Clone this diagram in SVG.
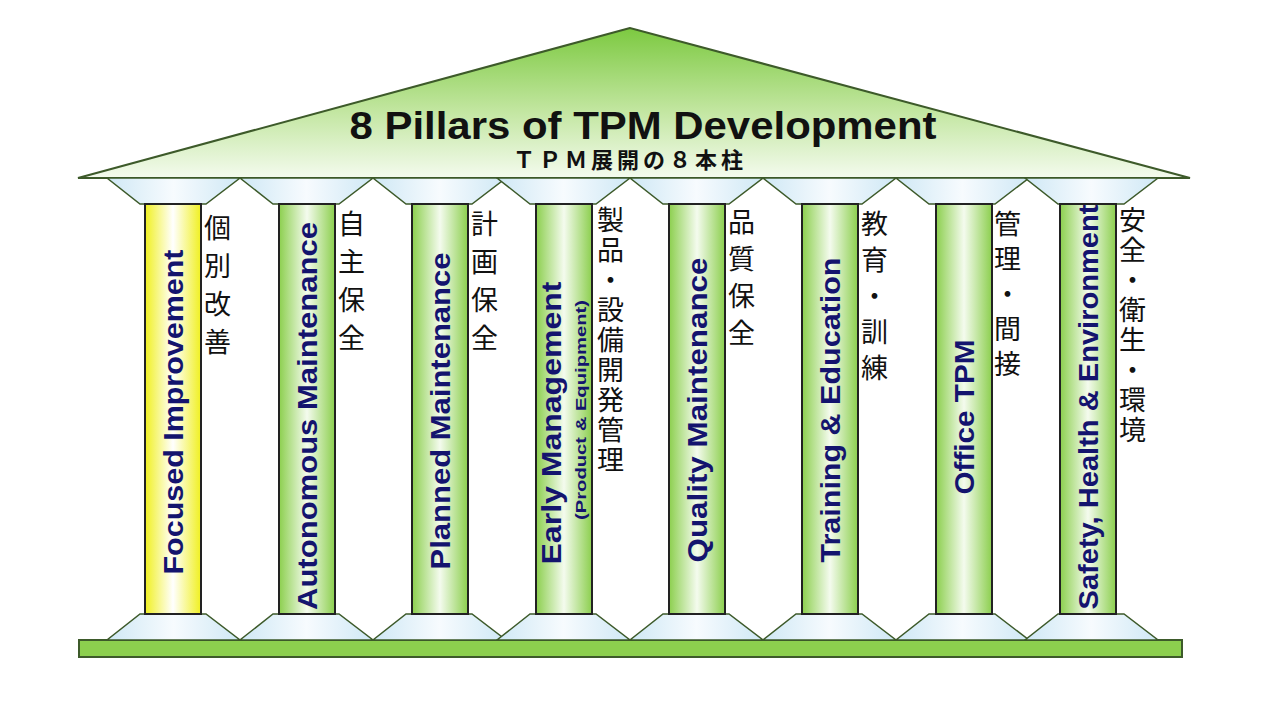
<svg xmlns="http://www.w3.org/2000/svg" width="1267" height="720" viewBox="0 0 1267 720">
<defs>
<linearGradient id="roof" x1="0" y1="0" x2="0" y2="1"><stop offset="0" stop-color="#7cc940"/><stop offset="0.55" stop-color="#c2e6a0"/><stop offset="1" stop-color="#f4fbee"/></linearGradient>
<linearGradient id="col" x1="0" y1="0" x2="1" y2="0"><stop offset="0" stop-color="#8ccf4e"/><stop offset="0.5" stop-color="#f4fbee"/><stop offset="1" stop-color="#8ccf4e"/></linearGradient>
<linearGradient id="ycol" x1="0" y1="0" x2="1" y2="0"><stop offset="0" stop-color="#f0f020"/><stop offset="0.5" stop-color="#ffffff"/><stop offset="1" stop-color="#f0f020"/></linearGradient>
<linearGradient id="cap" x1="0" y1="0" x2="1" y2="0"><stop offset="0" stop-color="#cfe8f5"/><stop offset="0.5" stop-color="#f7fbfe"/><stop offset="1" stop-color="#cfe8f5"/></linearGradient>
</defs>
<style>
.s{stroke:#3d5a2a;stroke-width:2}
.cap{fill:url(#cap);stroke:#3d5a2a;stroke-width:1.5}
.col{fill:url(#col);stroke:#222;stroke-width:2}
.en{font-family:"Liberation Sans",Arial,sans-serif;font-weight:bold;font-size:28px;fill:#14146e;text-anchor:middle}
.jp{font-family:"Noto Sans CJK JP",sans-serif;font-size:27px;fill:#111}
</style>
<rect width="1267" height="720" fill="#fff"/>
<g id="roof-g">
<polygon points="630,28 78,178 1190,178" fill="url(#roof)" class="s"/>
<text x="643" y="139" font-family="Liberation Sans,Arial,sans-serif" font-weight="bold" font-size="39" fill="#111" text-anchor="middle" textLength="587" lengthAdjust="spacingAndGlyphs">8 Pillars of TPM Development</text>
<text x="630" y="168" font-family="Noto Sans CJK JP,sans-serif" font-weight="bold" font-size="22" fill="#111" text-anchor="middle" letter-spacing="4">ＴＰＭ展開の８本柱</text>
</g>
<g id="base"><rect x="79" y="640" width="1103" height="17" fill="#8ccf4e" class="s"/></g>
<g id="p1"><polygon class="cap" points="107,178 240,178 206,204 140,204"/><polygon class="cap" points="140,614 206,614 240,640 107,640"/><rect x="145" y="204" width="56" height="410" fill="url(#ycol)" stroke="#222" stroke-width="2"/><text class="en" transform="translate(183,412) rotate(-90)" textLength="325" lengthAdjust="spacingAndGlyphs">Focused Improvement</text><text class="jp" x="204" y="238"><tspan x="204">個</tspan><tspan x="204" dy="38">別</tspan><tspan x="204" dy="38">改</tspan><tspan x="204" dy="38">善</tspan></text></g>
<g id="p2"><polygon class="cap" points="240,178 373,178 339,204 273,204"/><polygon class="cap" points="273,614 339,614 373,640 240,640"/><rect class="col" x="279" y="204" width="56" height="410"/><text class="en" transform="translate(317,416) rotate(-90)" textLength="388" lengthAdjust="spacingAndGlyphs">Autonomous Maintenance</text><text class="jp" x="338" y="234"><tspan x="338">自</tspan><tspan x="338" dy="38">主</tspan><tspan x="338" dy="38">保</tspan><tspan x="338" dy="38">全</tspan></text></g>
<g id="p3"><polygon class="cap" points="373,178 506,178 472,204 406,204"/><polygon class="cap" points="406,614 472,614 506,640 373,640"/><rect class="col" x="412" y="204" width="56" height="410"/><text class="en" transform="translate(450,411) rotate(-90)" textLength="317" lengthAdjust="spacingAndGlyphs">Planned Maintenance</text><text class="jp" x="471" y="234"><tspan x="471">計</tspan><tspan x="471" dy="38">画</tspan><tspan x="471" dy="38">保</tspan><tspan x="471" dy="38">全</tspan></text></g>
<g id="p4"><polygon class="cap" points="497,178 630,178 596,204 530,204"/><polygon class="cap" points="530,614 596,614 630,640 497,640"/><rect class="col" x="536" y="204" width="56" height="410"/><text class="en" transform="translate(561,423) rotate(-90)" textLength="283" lengthAdjust="spacingAndGlyphs">Early Management</text><text class="en" style="font-size:15px" transform="translate(586,410) rotate(-90)" textLength="220" lengthAdjust="spacingAndGlyphs">(Product &amp; Equipment)</text><text class="jp" x="597" y="230"><tspan x="597">製</tspan><tspan x="597" dy="30">品</tspan><tspan x="597" dy="30">・</tspan><tspan x="597" dy="30">設</tspan><tspan x="597" dy="30">備</tspan><tspan x="597" dy="30">開</tspan><tspan x="597" dy="30">発</tspan><tspan x="597" dy="30">管</tspan><tspan x="597" dy="30">理</tspan></text></g>
<g id="p5"><polygon class="cap" points="630,178 763,178 729,204 663,204"/><polygon class="cap" points="663,614 729,614 763,640 630,640"/><rect class="col" x="669" y="204" width="56" height="410"/><text class="en" transform="translate(707,410) rotate(-90)" textLength="305" lengthAdjust="spacingAndGlyphs">Quality Maintenance</text><text class="jp" x="728" y="232"><tspan x="728">品</tspan><tspan x="728" dy="37">質</tspan><tspan x="728" dy="37">保</tspan><tspan x="728" dy="37">全</tspan></text></g>
<g id="p6"><polygon class="cap" points="763,178 896,178 862,204 796,204"/><polygon class="cap" points="796,614 862,614 896,640 763,640"/><rect class="col" x="802" y="204" width="56" height="410"/><text class="en" transform="translate(840,410) rotate(-90)" textLength="305" lengthAdjust="spacingAndGlyphs">Training &amp; Education</text><text class="jp" x="861" y="234"><tspan x="861">教</tspan><tspan x="861" dy="36">育</tspan><tspan x="861" dy="36">・</tspan><tspan x="861" dy="36">訓</tspan><tspan x="861" dy="36">練</tspan></text></g>
<g id="p7"><polygon class="cap" points="896,178 1029,178 995,204 929,204"/><polygon class="cap" points="929,614 995,614 1029,640 896,640"/><rect class="col" x="936" y="204" width="56" height="410"/><text class="en" transform="translate(974,417) rotate(-90)" textLength="155" lengthAdjust="spacingAndGlyphs">Office TPM</text><text class="jp" x="994" y="234"><tspan x="994">管</tspan><tspan x="994" dy="35">理</tspan><tspan x="994" dy="35">・</tspan><tspan x="994" dy="35">間</tspan><tspan x="994" dy="35">接</tspan></text></g>
<g id="p8"><polygon class="cap" points="1025,178 1158,178 1124,204 1058,204"/><polygon class="cap" points="1058,614 1124,614 1158,640 1025,640"/><rect class="col" x="1060" y="204" width="56" height="410"/><text class="en" transform="translate(1098,407) rotate(-90)" textLength="405" lengthAdjust="spacingAndGlyphs">Safety, Health &amp; Environment</text><text class="jp" x="1119" y="230"><tspan x="1119">安</tspan><tspan x="1119" dy="30">全</tspan><tspan x="1119" dy="30">・</tspan><tspan x="1119" dy="30">衛</tspan><tspan x="1119" dy="30">生</tspan><tspan x="1119" dy="30">・</tspan><tspan x="1119" dy="30">環</tspan><tspan x="1119" dy="30">境</tspan></text></g>
</svg>
